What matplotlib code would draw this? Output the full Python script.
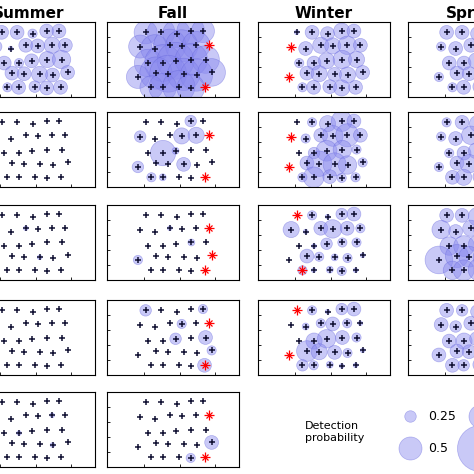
import matplotlib.pyplot as plt
import numpy as np

# site layout (normalised panel coordinates), shared by every panel
site_px = [(150, 72), (198, 72), (246, 76), (290, 68), (328, 68),
           (133, 116), (178, 122), (225, 112), (262, 114), (307, 112), (348, 112),
           (158, 167), (204, 167), (243, 160), (292, 156), (336, 156),
           (126, 210), (182, 198), (220, 200), (268, 202), (308, 204), (355, 196),
           (168, 242), (203, 242), (253, 240), (290, 244), (333, 242)]
site_x = [(x - 30) / 410 for x, y in site_px]
site_y = [1 - (y - 40) / 232 for x, y in site_px]

seasons = ["Summer", "Fall", "Winter", "Spring"]

# detection probability per site, per (row, season)
prob = {
    (0, 0): [.3, .3, .2, .3, .3, .25, .1, .3, .3, .35, .3, .3, .2, .3, .35, .4,
             .25, .3, .3, .35, .3, .3, .2, .3, .25, .3, .3],
    (0, 1): [.5, .6, .6, .6, .5, .5, .6, .7, .7, .6, 0, .6, .8, .8, .7, .6,
             .5, .7, .8, .7, .7, .6, .5, .6, .7, .6, 0],
    (0, 2): [.1, .3, .3, .35, .3, 0, .3, .35, .35, .4, .3, .2, .3, .35, .4, .35,
             0, .3, .35, .3, .35, .3, .2, .3, .3, .35, .3],
    (0, 3): [.3, .3, .3, .35, .3, .2, .3, .3, .35, .3, .3, .3, .3, .35, .3, .3,
             .2, .3, .3, .35, .3, .3, .2, .3, .3, .3, .3],
    (1, 0): [0, 0, 0, 0, 0, 0, 0, 0, 0, 0, 0, 0, 0, 0, 0, 0,
             0, 0, 0, 0, 0, 0, 0, 0, 0, 0, 0],
    (1, 1): [0, 0, 0, .25, 0, .25, 0, 0, .35, .35, 0, 0, .55, .15, 0, 0,
             .25, 0, 0, .3, 0, 0, .2, .15, 0, 0, 0],
    (1, 2): [0, .2, .35, .45, .3, 0, .2, .3, .45, .5, .3, 0, .25, .45, .4, .2,
             0, .3, .55, .5, .4, .2, .2, .45, .3, .2, .2],
    (1, 3): [.2, .3, .35, .3, .2, .2, .3, .4, .35, .3, .2, .2, .3, .35, .3, .2,
             .2, .3, .4, .3, .2, .2, .3, .35, .3, .2, .2],
    (2, 0): [0, 0, 0, 0, 0, 0, 0, .1, 0, 0, 0, 0, 0, 0, 0, 0,
             0, 0, 0, .1, 0, 0, 0, 0, 0, 0, 0],
    (2, 1): [0, 0, 0, 0, 0, 0, 0, .1, 0, 0, 0, 0, 0, 0, .15, 0,
             .2, 0, 0, 0, 0, 0, 0, 0, 0, 0, 0],
    (2, 2): [0, .2, .1, .25, .3, .35, .1, .3, .4, .3, .2, 0, .1, .25, .2, .2,
             0, .3, .2, .15, .2, .1, .2, .1, .15, .2, .1],
    (2, 3): [.3, .3, .4, .35, .3, .4, .3, .35, .4, .3, .3, .4, .45, .35, .4, .3,
             .6, .5, .45, .5, .4, .3, .4, .45, .5, .45, .3],
    (3, 0): [0, 0, 0, 0, 0, 0, 0, 0, 0, 0, 0, 0, 0, 0, 0, 0,
             0, 0, 0, 0, 0, 0, 0, 0, 0, 0, 0],
    (3, 1): [.25, 0, 0, 0, .2, 0, 0, 0, .2, 0, 0, 0, 0, .25, 0, .3,
             0, 0, 0, 0, 0, .2, 0, 0, 0, 0, .3],
    (3, 2): [0, .2, .1, .25, .3, 0, .15, .2, .3, .2, .1, 0, .35, .4, .3, .2,
             0, .45, .35, .3, .2, .1, .25, .2, .15, .1, .1],
    (3, 3): [.3, .25, .3, .2, .25, .3, .25, .3, .3, .2, .3, .3, .35, .3, .2, .25,
             .3, .3, .3, .25, .3, .2, .3, .25, .3, .2, .3],
    (4, 0): [0, 0, 0, 0, 0, 0, 0, 0, 0, .1, 0, 0, .1, 0, 0, 0,
             0, 0, 0, 0, .1, 0, 0, 0, 0, 0, 0],
    (4, 1): [0, 0, 0, 0, 0, 0, 0, 0, 0, 0, 0, 0, 0, 0, 0, 0,
             0, 0, 0, 0, 0, .3, 0, 0, 0, .2, 0],
}
# sites marked with a red asterisk
red_sites = {
    (0, 1): [10, 26], (0, 2): [5, 16],
    (1, 1): [10, 26], (1, 2): [5, 16],
    (2, 1): [10, 21, 26], (2, 2): [0, 22],
    (3, 1): [10, 26], (3, 2): [0, 16],
    (4, 1): [10, 26],
}
legend_probs = [0.25, 0.5]

W, H = 474, 474
col_left = [-37, 107, 258, 408]
row_top = [22, 112, 205, 300, 392]
pw, ph = 132, 75
circle_k = 1100  # marker area (pt^2) per unit probability^2
fill = '#8888ee'
edge = '#6666dd'

fig = plt.figure(figsize=(4.74, 4.74), dpi=100)
for (r, c), p in prob.items():
    ax = fig.add_axes([col_left[c] / W, 1 - (row_top[r] + ph) / H, pw / W, ph / H])
    p = np.array(p)
    red = red_sites.get((r, c), [])
    xs, ys = np.array(site_x), np.array(site_y)
    ax.scatter(xs, ys, s=circle_k * p ** 2, color=fill, alpha=0.45,
               edgecolors=edge, linewidths=0.5, zorder=1)
    keep = [i for i in range(len(xs)) if i not in red]
    ax.plot(xs[keep], ys[keep], '+', color='#111133', ms=5, mew=1.1, zorder=3)
    if red:
        # asterisk: plus over an x
        ax.plot(xs[red], ys[red], '+', color='red', ms=7, mew=0.9, zorder=3)
        ax.plot(xs[red], ys[red], 'x', color='red', ms=5, mew=0.9, zorder=3)
    ax.set_xlim(0, 1)
    ax.set_ylim(0, 1)
    ax.set_xticks([0.28, 0.55, 0.82])
    ax.set_yticks([0.2, 0.4, 0.6, 0.8])
    ax.set_xticklabels([])
    ax.set_yticklabels([])
    ax.tick_params(direction='in', length=2, width=0.6)
    for s in ax.spines.values():
        s.set_linewidth(0.8)
    if r == 0:
        ax.set_title(seasons[c], fontsize=11, fontweight='bold', pad=3)

# legend
fig.text(305 / W, 1 - 432 / H, "Detection\nprobability", fontsize=8,
         ha='left', va='center')
lax = fig.add_axes([0, 0, 1, 1], facecolor='none')
lax.set_xlim(0, W)
lax.set_ylim(H, 0)
lax.axis('off')
for i, lp in enumerate(legend_probs):
    y = 416 + i * 32
    lax.scatter([410], [y], s=circle_k * lp ** 2, color=fill, alpha=0.45,
                edgecolors=edge, linewidths=0.5)
    lax.text(428, y, str(lp), fontsize=9, va='center')
for i, lp in enumerate([0.5, 1.0]):
    lax.scatter([480], [416 + i * 32], s=circle_k * lp ** 2, color=fill,
                alpha=0.45, edgecolors=edge, linewidths=0.5)

fig.savefig("out.png", dpi=100)
